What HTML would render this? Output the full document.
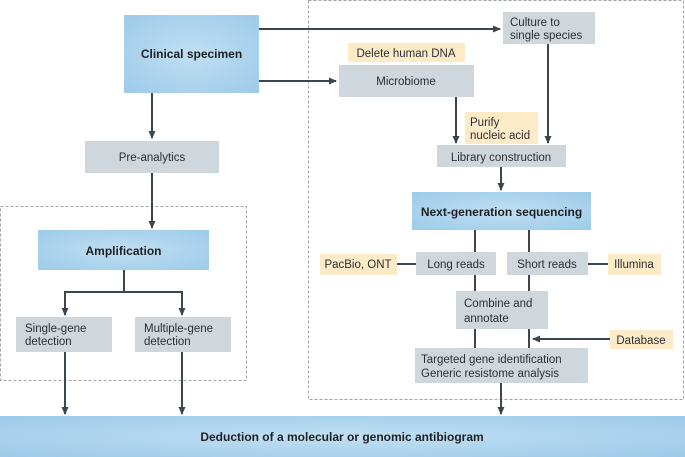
<!DOCTYPE html>
<html><head><style>body{margin:0;background:#fff}svg{display:block}text{font-family:"Liberation Sans",sans-serif;font-size:11.5px;fill:#2b2f33}.b{font-weight:bold;font-size:12px;fill:#1d2125}</style></head><body>
<svg width="685" height="457" viewBox="0 0 685 457">
<defs>
<radialGradient id="g" cx="50%" cy="50%" r="70%"><stop offset="0" stop-color="#c2dff2"/><stop offset="1" stop-color="#9ccbe9"/></radialGradient>
<marker id="a" markerWidth="8" markerHeight="8" refX="7" refY="4" orient="auto" markerUnits="userSpaceOnUse"><path d="M0,0.5 L8,4 L0,7.5 Z" fill="#3d4650"/></marker>
</defs>
<g fill="none" stroke="#a0a4a8" stroke-dasharray="3,2">
<rect x="0.5" y="206.5" width="246" height="174"/>
<rect x="308.5" y="0.5" width="375" height="399"/>
</g>
<!-- boxes -->
<rect x="124" y="15" width="135" height="78" fill="url(#g)"/>
<rect x="85" y="141" width="134" height="32" fill="#cfd7dd"/>
<rect x="38" y="230" width="171" height="40" fill="url(#g)"/>
<rect x="16" y="317" width="96" height="35" fill="#cfd7dd"/>
<rect x="135" y="317" width="96" height="35" fill="#cfd7dd"/>
<rect x="503" y="12" width="92" height="32" fill="#cfd7dd"/>
<rect x="348" y="43" width="117" height="19" fill="#fdebc8"/>
<rect x="339" y="65" width="135" height="32" fill="#cfd7dd"/>
<rect x="465" y="112" width="73" height="32" fill="#fdebc8"/>
<rect x="437" y="145" width="129" height="22" fill="#cfd7dd"/>
<rect x="412" y="192" width="179" height="38" fill="url(#g)"/>
<rect x="320" y="254" width="77" height="21" fill="#fdebc8"/>
<rect x="416" y="252" width="80" height="23" fill="#cfd7dd"/>
<rect x="507" y="252" width="81" height="23" fill="#cfd7dd"/>
<rect x="608" y="254" width="53" height="21" fill="#fdebc8"/>
<rect x="456" y="291" width="92" height="38" fill="#cfd7dd"/>
<rect x="610" y="330" width="63" height="19" fill="#fdebc8"/>
<rect x="415" y="348" width="173" height="35" fill="#cfd7dd"/>
<rect x="0" y="416" width="685" height="41" fill="url(#g)"/>
<!-- lines -->
<g stroke="#3d4650" stroke-width="2" fill="none">
<path d="M259,29 H500" marker-end="url(#a)"/>
<path d="M259,81 H336" marker-end="url(#a)"/>
<path d="M152,93 V138" marker-end="url(#a)"/>
<path d="M152,173 V228" marker-end="url(#a)"/>
<path d="M124,270 V292 H65 V315 M124,292 H182 V315" />
<path d="M65,292 V315" marker-end="url(#a)"/>
<path d="M182,292 V315" marker-end="url(#a)"/>
<path d="M65,352 V414" marker-end="url(#a)"/>
<path d="M182,352 V414" marker-end="url(#a)"/>
<path d="M548,44 V143" marker-end="url(#a)"/>
<path d="M456,97 V143" marker-end="url(#a)"/>
<path d="M501,167 V190" marker-end="url(#a)"/>
<path d="M475,230 V252 M529,230 V252 M475,275 V291 M529,275 V291 M475,329 V348 M529,329 V348"/>
<path d="M397,264 H416 M588,264 H608"/>
<path d="M610,339 H533" marker-end="url(#a)"/>
<path d="M501,383 V414" marker-end="url(#a)"/>
</g>
<!-- text -->
<text class="b" x="191.5" y="58" text-anchor="middle">Clinical specimen</text>
<text x="152" y="161" text-anchor="middle">Pre-analytics</text>
<text class="b" x="123.5" y="255" text-anchor="middle">Amplification</text>
<text x="25" y="332">Single-gene</text><text x="25" y="345">detection</text>
<text x="144" y="332">Multiple-gene</text><text x="144" y="345">detection</text>
<text x="510" y="26">Culture to</text><text x="510" y="39">single species</text>
<text x="406" y="57" text-anchor="middle">Delete human DNA</text>
<text x="406" y="85" text-anchor="middle">Microbiome</text>
<text x="470" y="126">Purify</text><text x="470" y="139">nucleic acid</text>
<text x="501" y="161" text-anchor="middle">Library construction</text>
<text class="b" x="501.5" y="216" text-anchor="middle">Next-generation sequencing</text>
<text x="358" y="268" text-anchor="middle">PacBio, ONT</text>
<text x="456" y="268" text-anchor="middle">Long reads</text>
<text x="547" y="268" text-anchor="middle">Short reads</text>
<text x="634" y="268" text-anchor="middle">Illumina</text>
<text x="464" y="307">Combine and</text><text x="464" y="322">annotate</text>
<text x="641" y="344" text-anchor="middle">Database</text>
<text x="421" y="363">Targeted gene identification</text>
<text x="421" y="377">Generic resistome analysis</text>
<text class="b" x="342" y="441" text-anchor="middle">Deduction of a molecular or genomic antibiogram</text>
</svg>
</body></html>
